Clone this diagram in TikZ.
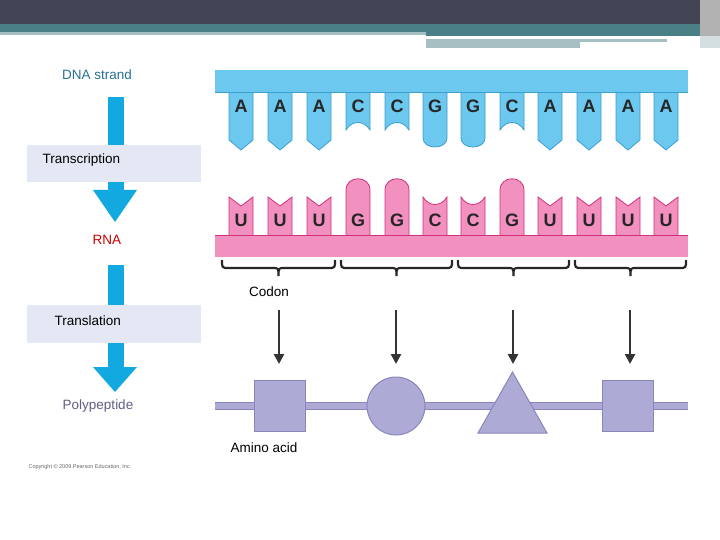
\documentclass[tikz,border=0pt]{standalone}
\usepackage{fontspec}
\setmainfont{Liberation Sans}
\usetikzlibrary{arrows.meta}
\definecolor{hdr}{HTML}{434356}
\definecolor{teal1}{HTML}{4A8085}
\definecolor{teal2}{HTML}{A6BFC2}
\definecolor{dnaF}{HTML}{6CC8EE}
\definecolor{dnaS}{HTML}{3AA0D0}
\definecolor{rnaF}{HTML}{F290C0}
\definecolor{rnaS}{HTML}{D0307A}
\definecolor{aaF}{HTML}{AEAAD6}
\definecolor{aaS}{HTML}{8A86BC}
\definecolor{boxF}{HTML}{E4E8F4}
\definecolor{flow}{HTML}{12A8E0}
\def\bA{A}\def\bC{C}\def\bG{G}\def\bU{U}
\begin{document}
\begin{tikzpicture}[x=1pt,y=-1pt,
  dna/.style={fill=dnaF,draw=dnaS,line width=0.8pt},
  rna/.style={fill=rnaF,draw=rnaS,line width=0.8pt},
  aa/.style={fill=aaF,draw=aaS,line width=1pt},
  base/.style={font=\bfseries\fontsize{18}{18}\selectfont,text=black!85},
  lbl/.style={font=\fontsize{13.5}{15}\selectfont},
  brace/.style={line width=2.2pt,draw=black!85},
  arr/.style={line width=2.8pt,draw=black!80,-{Triangle[length=10pt,width=10pt]}},
  stepbox/.style={fill=boxF,draw=none}]
\useasboundingbox (0,0) rectangle (720,540);
% header
\fill[hdr] (0,0) rectangle (720,24);
\fill[teal1] (0,24) rectangle (720,32);
\fill[teal1] (426,32) rectangle (700,36);
\fill[teal2] (0,32) rectangle (426,35);
\fill[teal2] (426,39) rectangle (667,42);
\fill[teal2] (426,42) rectangle (580,48);
\fill[black!30] (700,0) rectangle (720,36);
\fill[teal2!50] (700,36) rectangle (720,48);
% DNA strand
\fill[dnaF] (215,70) rectangle (688,92);
\foreach \c/\t [count=\i] in {241/A,280/A,319/A,358/C,397/C,435/G,473/G,512/C,550/A,589/A,628/A,666/A}{
  \ifx\t\bA
    \draw[dna] (\c-12,92) -- (\c-12,140) -- (\c,150) -- (\c+12,140) -- (\c+12,92);
  \fi
  \ifx\t\bC
    \draw[dna] (\c-12,92) -- (\c-12,130) .. controls (\c-6,120) and (\c+6,120) .. (\c+12,130) -- (\c+12,92);
  \fi
  \ifx\t\bG
    \draw[dna] (\c-12,92) -- (\c-12,138) .. controls (\c-12,150) and (\c+12,150) .. (\c+12,138) -- (\c+12,92);
  \fi
  \node[base] (d\i) at (\c,106) {\t};
}
\draw[dnaS,line width=0.8pt] (215,92) -- (688,92);
% RNA strand
\foreach \c/\t [count=\i] in {241/U,280/U,319/U,358/G,397/G,435/C,473/C,512/G,550/U,589/U,628/U,666/U}{
  \ifx\t\bU
    \draw[rna] (\c-12,236) -- (\c-12,197) -- (\c,206) -- (\c+12,197) -- (\c+12,236);
  \fi
  \ifx\t\bC
    \draw[rna] (\c-12,236) -- (\c-12,197) .. controls (\c-6,207) and (\c+6,207) .. (\c+12,197) -- (\c+12,236);
  \fi
  \ifx\t\bG
    \draw[rna] (\c-12,236) -- (\c-12,190) .. controls (\c-12,175) and (\c+12,175) .. (\c+12,190) -- (\c+12,236);
  \fi
  \node[base] (r\i) at (\c,220) {\t};
}
\fill[rnaF] (215,235) rectangle (688,257);
\draw[rnaS,line width=0.8pt] (215,235) -- (688,235);
% braces
\foreach \a/\b [count=\i] in {222/335,341/452,458/569,575/686}{
  \pgfmathsetmacro{\m}{(\a+\b)/2}
  \draw[brace] (\a,260) .. controls (\a,268) .. (\a+7,268) -- (\m-6,268) .. controls (\m,268) .. (\m,276) .. controls (\m,268) .. (\m+6,268) -- (\b-7,268) .. controls (\b,268) .. (\b,260);
}
\node[lbl] (codon) at (269,292) {Codon};
% polypeptide
\fill[aaF] (215,402) rectangle (688,409);
\draw[aaS,line width=0.6pt] (215,402) -- (688,402) (215,409) -- (688,409);
\node[aa,minimum size=51pt,inner sep=0pt,draw,rectangle] (aa1) at (280,406) {};
\node[aa,minimum size=58pt,inner sep=0pt,draw,circle] (aa2) at (396,406) {};
\draw[aa] (478,433) -- (512.5,372) -- (547,433) -- cycle;
\coordinate (aa3) at (512.5,372);
\node[aa,minimum size=51pt,inner sep=0pt,draw,rectangle] (aa4) at (628,406) {};
\coordinate (s1) at (279,310); \coordinate (s2) at (396,310);
\coordinate (s3) at (513,310); \coordinate (s4) at (630,310);
\coordinate (e1) at (279,364); \coordinate (e2) at (396,364);
\coordinate (e3) at (513,364); \coordinate (e4) at (630,364);
\draw[arr] (s1) -- (e1);
\draw[arr] (s2) -- (e2);
\draw[arr] (s3) -- (e3);
\draw[arr] (s4) -- (e4);
\node[lbl] (amino) at (264,448) {Amino acid};
% left flow
\fill[flow] (108,97) rectangle (124,190);
\fill[flow] (93,190) -- (137,190) -- (115,222) -- cycle;
\node[stepbox,minimum width=174pt,minimum height=37pt] (tr) at (114,163.5) {};
\node[lbl,anchor=west] (trl) at (39,160) {Transcription};
\fill[flow] (108,265) rectangle (124,367);
\fill[flow] (93,367) -- (137,367) -- (115,392) -- cycle;
\node[stepbox,minimum width=174pt,minimum height=38pt] (tl) at (114,324) {};
\node[lbl,anchor=west] (tll) at (51,321) {Translation};
\node[lbl,text=dnaS!70!black] (dnal) at (97,75) {DNA strand};
\node[lbl,text=red!80!black] (rnal) at (107,240) {RNA};
\node[lbl,text=aaS!70!black] (polyl) at (98,406) {Polypeptide};
\node[font=\fontsize{5.5}{6}\selectfont,text=black!60,anchor=west] (copy) at (25,467) {Copyright \textcopyright\ 2009 Pearson Education, Inc.};
\end{tikzpicture}
\end{document}
